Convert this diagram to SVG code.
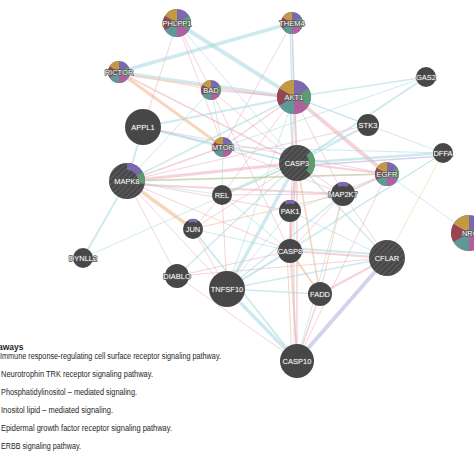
<svg xmlns="http://www.w3.org/2000/svg" width="474" height="474" viewBox="0 0 474 474">
<defs>
<pattern id="hatch" patternUnits="userSpaceOnUse" width="4" height="4" patternTransform="rotate(45)">
<rect width="4" height="4" fill="#474747"/>
<rect width="1.3" height="4" fill="#5c5c5c"/>
</pattern>
<clipPath id="cNRC"><circle cx="469" cy="233" r="18"/></clipPath>
</defs>
<style>
.e{fill:none;stroke-linecap:round}
.b{stroke:#9fd6e0;opacity:.5}
.p{stroke:#eaa8b3;opacity:.5}
.o{stroke:#f0b585;opacity:.55}
.g{stroke:#b5dca0;opacity:.55}
.l{stroke:#b7b4e0;opacity:.6}
.y{stroke:#e6dca0;opacity:.6}
.n{fill:#474747}
.h{fill:url(#hatch)}
.t{font-family:"Liberation Sans",Arial,sans-serif;font-size:7.5px;fill:#fff;text-anchor:middle;stroke:#555;stroke-width:1.4px;paint-order:stroke;stroke-linejoin:round}
.lg{font-family:"Liberation Sans Narrow","Liberation Sans",Arial,sans-serif;font-size:8.5px;fill:#262626}
.s1{fill:#7c68ae}.s2{fill:#5c9c72}.s3{fill:#b0609e}.s4{fill:#5e9a94}.s5{fill:#9a4452}.s6{fill:#c29a42}
</style>
<rect width="474" height="474" fill="#fff"/>
<g id="connectors">
<path class="e b" stroke-width="4" d="M177,23 L294,97"/>
<path class="e b" stroke-width="3.5" d="M119,72 L292,23"/>
<path class="e p" stroke-width="1.5" d="M292,23 L294,97"/>
<path class="e b" stroke-width="1.5" d="M290,23 L292,97"/>
<path class="e b" stroke-width="1" d="M292,23 L297,163"/>
<path class="e p" stroke-width="1" d="M292,23 L223,147"/>
<path class="e b" stroke-width="2.5" d="M119,72 L294,97"/>
<path class="e p" stroke-width="1.5" d="M119,74 L294,99"/>
<path class="e o" stroke-width="3" d="M119,72 L223,147"/>
<path class="e p" stroke-width="1.5" d="M119,72 L297,163"/>
<path class="e y" stroke-width="1" d="M119,72 L211,90"/>
<path class="e p" stroke-width="1" d="M177,23 L211,90"/>
<path class="e p" stroke-width="1" d="M177,23 L223,147"/>
<path class="e p" stroke-width="1" d="M177,23 L143,127"/>
<path class="e b" stroke-width="1" d="M177,23 L297,163"/>
<path class="e p" stroke-width="1.5" d="M211,90 L294,97"/>
<path class="e p" stroke-width="1" d="M211,90 L297,163"/>
<path class="e b" stroke-width="1" d="M211,90 L223,147"/>
<path class="e b" stroke-width="1" d="M211,90 L127,181"/>
<path class="e p" stroke-width="1" d="M211,90 L290,251"/>
<path class="e b" stroke-width="2" d="M143,127 L294,97"/>
<path class="e b" stroke-width="2" d="M143,127 L223,147"/>
<path class="e b" stroke-width="1.5" d="M143,127 L297,163"/>
<path class="e p" stroke-width="1" d="M143,127 L387,174"/>
<path class="e b" stroke-width="2" d="M143,127 L127,181"/>
<path class="e p" stroke-width="2" d="M294,97 L297,163"/>
<path class="e b" stroke-width="2" d="M290,97 L293,163"/>
<path class="e p" stroke-width="4" d="M294,97 L387,174"/>
<path class="e p" stroke-width="1.5" d="M294,97 L223,147"/>
<path class="e b" stroke-width="1.5" d="M294,97 L127,181"/>
<path class="e p" stroke-width="1" d="M294,97 L343,194"/>
<path class="e b" stroke-width="1" d="M294,97 L368,125"/>
<path class="e p" stroke-width="1" d="M294,97 L222,195"/>
<path class="e p" stroke-width="1" d="M294,97 L290,251"/>
<path class="e b" stroke-width="1" d="M294,97 L227,289"/>
<path class="e b" stroke-width="1" d="M294,97 L443,153"/>
<path class="e b" stroke-width="2" d="M426,77 L297,163"/>
<path class="e b" stroke-width="1.5" d="M426,77 L294,97"/>
<path class="e b" stroke-width="1" d="M426,77 L223,147"/>
<path class="e b" stroke-width="1.5" d="M368,125 L297,163"/>
<path class="e b" stroke-width="1" d="M368,125 L222,195"/>
<path class="e p" stroke-width="1" d="M368,125 L127,181"/>
<path class="e b" stroke-width="2.5" d="M443,153 L297,163"/>
<path class="e l" stroke-width="1.5" d="M443,156 L297,166"/>
<path class="e b" stroke-width="1" d="M443,153 L290,251"/>
<path class="e y" stroke-width="1" d="M443,153 L387,258"/>
<path class="e b" stroke-width="1" d="M443,153 L223,147"/>
<path class="e p" stroke-width="2" d="M387,174 L297,163"/>
<path class="e p" stroke-width="2" d="M387,174 L343,194"/>
<path class="e b" stroke-width="1" d="M387,174 L469,233"/>
<path class="e p" stroke-width="1.5" d="M387,174 L127,181"/>
<path class="e b" stroke-width="1" d="M387,174 L290,211"/>
<path class="e p" stroke-width="1" d="M387,174 L297,361"/>
<path class="e p" stroke-width="3" d="M127,181 L297,163"/>
<path class="e p" stroke-width="2" d="M127,184 L343,194"/>
<path class="e g" stroke-width="1.5" d="M127,181 L387,174"/>
<path class="e p" stroke-width="1.5" d="M127,181 L223,147"/>
<path class="e o" stroke-width="3.5" d="M127,181 L193,229"/>
<path class="e b" stroke-width="2" d="M127,181 L83,258"/>
<path class="e p" stroke-width="1" d="M127,181 L177,276"/>
<path class="e p" stroke-width="1" d="M127,181 L227,289"/>
<path class="e p" stroke-width="1" d="M127,181 L290,211"/>
<path class="e b" stroke-width="1" d="M127,181 L222,195"/>
<path class="e p" stroke-width="1" d="M127,181 L290,251"/>
<path class="e b" stroke-width="1" d="M223,147 L297,163"/>
<path class="e p" stroke-width="1" d="M223,147 L343,194"/>
<path class="e b" stroke-width="1" d="M223,147 L222,195"/>
<path class="e g" stroke-width="1.5" d="M222,195 L297,163"/>
<path class="e p" stroke-width="1" d="M222,195 L343,194"/>
<path class="e p" stroke-width="1" d="M222,195 L227,289"/>
<path class="e b" stroke-width="1" d="M222,195 L290,251"/>
<path class="e p" stroke-width="1" d="M222,195 L193,229"/>
<path class="e p" stroke-width="1" d="M193,229 L297,163"/>
<path class="e o" stroke-width="1" d="M193,229 L343,194"/>
<path class="e b" stroke-width="1" d="M193,229 L290,251"/>
<path class="e p" stroke-width="1" d="M193,229 L227,289"/>
<path class="e b" stroke-width="2" d="M193,229 L297,361"/>
<path class="e b" stroke-width="3.5" d="M297,163 L227,289"/>
<path class="e b" stroke-width="1.5" d="M297,163 L177,276"/>
<path class="e p" stroke-width="1.5" d="M297,163 L290,211"/>
<path class="e p" stroke-width="1.5" d="M297,163 L290,251"/>
<path class="e b" stroke-width="1.5" d="M297,163 L387,258"/>
<path class="e o" stroke-width="1.5" d="M297,163 L320,294"/>
<path class="e p" stroke-width="1.5" d="M297,163 L297,361"/>
<path class="e b" stroke-width="1" d="M294,163 L294,361"/>
<path class="e p" stroke-width="1" d="M297,163 L343,194"/>
<path class="e b" stroke-width="1" d="M297,163 L83,258"/>
<path class="e b" stroke-width="1.5" d="M343,194 L227,289"/>
<path class="e p" stroke-width="1" d="M343,194 L387,258"/>
<path class="e p" stroke-width="1" d="M343,194 L290,251"/>
<path class="e b" stroke-width="1" d="M343,194 L297,361"/>
<path class="e o" stroke-width="1" d="M343,194 L320,294"/>
<path class="e b" stroke-width="1" d="M290,211 L227,289"/>
<path class="e p" stroke-width="1.5" d="M290,211 L290,251"/>
<path class="e o" stroke-width="1" d="M290,211 L297,361"/>
<path class="e b" stroke-width="1" d="M290,211 L387,258"/>
<path class="e p" stroke-width="2" d="M290,251 L387,258"/>
<path class="e b" stroke-width="2" d="M290,248 L387,255"/>
<path class="e o" stroke-width="2" d="M290,251 L320,294"/>
<path class="e p" stroke-width="1.5" d="M290,251 L297,361"/>
<path class="e o" stroke-width="1" d="M287,251 L292,361"/>
<path class="e b" stroke-width="1.5" d="M290,251 L227,289"/>
<path class="e p" stroke-width="1" d="M290,251 L177,276"/>
<path class="e p" stroke-width="2" d="M387,258 L320,294"/>
<path class="e l" stroke-width="4" d="M387,258 L297,361"/>
<path class="e b" stroke-width="1.5" d="M387,258 L227,289"/>
<path class="e p" stroke-width="1" d="M387,258 L177,276"/>
<path class="e p" stroke-width="1.5" d="M320,294 L297,361"/>
<path class="e b" stroke-width="1.5" d="M320,294 L227,289"/>
<path class="e b" stroke-width="3.5" d="M227,289 L297,361"/>
<path class="e p" stroke-width="1" d="M177,276 L297,361"/>
<path class="e b" stroke-width="1" d="M227,289 L443,153"/>
</g>
<g id="node-PHLPP1"><circle cx="177" cy="23" r="14" class="s1"/><path class="s6" d="M177,23 L177,9 A14,14 0 0,0 164.9,16 Z"/><path class="s5" d="M177,23 L164.9,16 A14,14 0 0,0 164.9,30 Z"/><path class="s4" d="M177,23 L164.9,30 A14,14 0 0,0 177,37 Z"/><path class="s3" d="M177,23 L177,37 A14,14 0 0,0 189.1,30 Z"/><path class="s2" d="M177,23 L189.1,30 A14,14 0 0,0 189.1,16 Z"/><text class="t" x="177" y="25.7">PHLPP1</text></g>
<g id="node-THEM4"><circle cx="292" cy="23" r="11" class="s1"/><path class="s6" d="M292,23 L292,12 A11,11 0 0,0 282.5,17.5 Z"/><path class="s5" d="M292,23 L282.5,17.5 A11,11 0 0,0 282.5,28.5 Z"/><path class="s4" d="M292,23 L282.5,28.5 A11,11 0 0,0 292,34 Z"/><path class="s3" d="M292,23 L292,34 A11,11 0 0,0 301.5,28.5 Z"/><path class="s2" d="M292,23 L301.5,28.5 A11,11 0 0,0 301.5,17.5 Z"/><text class="t" x="292" y="25.7">THEM4</text></g>
<g id="node-RICTOR"><circle cx="119" cy="72" r="11" class="s1"/><path class="s6" d="M119,72 L119,61 A11,11 0 0,0 109.5,66.5 Z"/><path class="s5" d="M119,72 L109.5,66.5 A11,11 0 0,0 109.5,77.5 Z"/><path class="s4" d="M119,72 L109.5,77.5 A11,11 0 0,0 119,83 Z"/><path class="s3" d="M119,72 L119,83 A11,11 0 0,0 128.5,77.5 Z"/><path class="s2" d="M119,72 L128.5,77.5 A11,11 0 0,0 128.5,66.5 Z"/><text class="t" x="119" y="74.7">RICTOR</text></g>
<g id="node-BAD"><circle cx="211" cy="90" r="10" class="s1"/><path class="s6" d="M211,90 L211,80 A10,10 0 0,0 202.3,85 Z"/><path class="s5" d="M211,90 L202.3,85 A10,10 0 0,0 202.3,95 Z"/><path class="s4" d="M211,90 L202.3,95 A10,10 0 0,0 211,100 Z"/><path class="s3" d="M211,90 L211,100 A10,10 0 0,0 219.7,95 Z"/><path class="s2" d="M211,90 L219.7,95 A10,10 0 0,0 219.7,85 Z"/><text class="t" x="211" y="92.7">BAD</text></g>
<g id="node-AKT1"><circle cx="294" cy="97" r="17" class="s1"/><path class="s6" d="M294,97 L294,80 A17,17 0 0,0 279.3,88.5 Z"/><path class="s5" d="M294,97 L279.3,88.5 A17,17 0 0,0 279.3,105.5 Z"/><path class="s4" d="M294,97 L279.3,105.5 A17,17 0 0,0 294,114 Z"/><path class="s3" d="M294,97 L294,114 A17,17 0 0,0 308.7,105.5 Z"/><path class="s2" d="M294,97 L308.7,105.5 A17,17 0 0,0 308.7,88.5 Z"/><text class="t" x="294" y="99.7">AKT1</text></g>
<g id="node-GAS2"><circle cx="426" cy="77" r="10" class="n"/><text class="t" x="426" y="79.7">GAS2</text></g>
<g id="node-APPL1"><circle cx="143" cy="127" r="18" class="n"/><text class="t" x="143" y="129.7">APPL1</text></g>
<g id="node-STK3"><circle cx="368" cy="125" r="11" class="n"/><text class="t" x="368" y="127.7">STK3</text></g>
<g id="node-MTOR"><circle cx="223" cy="147" r="10" class="s1"/><path class="s6" d="M223,147 L223,137 A10,10 0 0,0 214.3,142 Z"/><path class="s5" d="M223,147 L214.3,142 A10,10 0 0,0 214.3,152 Z"/><path class="s4" d="M223,147 L214.3,152 A10,10 0 0,0 223,157 Z"/><path class="s3" d="M223,147 L223,157 A10,10 0 0,0 231.7,152 Z"/><path class="s2" d="M223,147 L231.7,152 A10,10 0 0,0 231.7,142 Z"/><text class="t" x="223" y="149.7">MTOR</text></g>
<g id="node-CASP3"><circle cx="297" cy="163" r="18" class="h"/><path class="s2" d="M297,163 L310.8,151.4 A18,18 0 0,1 310.8,174.6 Z"/><circle cx="297" cy="163" r="12" class="h"/><text class="t" x="297" y="165.7">CASP3</text></g>
<g id="node-DFFA"><circle cx="443" cy="153" r="10" class="n"/><text class="t" x="443" y="155.7">DFFA</text></g>
<g id="node-EGFR"><circle cx="387" cy="174" r="12" class="s1"/><path class="s6" d="M387,174 L387,162 A12,12 0 0,0 376.6,168 Z"/><path class="s5" d="M387,174 L376.6,168 A12,12 0 0,0 376.6,180 Z"/><path class="s4" d="M387,174 L376.6,180 A12,12 0 0,0 387,186 Z"/><path class="s3" d="M387,174 L387,186 A12,12 0 0,0 397.4,180 Z"/><path class="s2" d="M387,174 L397.4,180 A12,12 0 0,0 397.4,168 Z"/><text class="t" x="387" y="176.7">EGFR</text></g>
<g id="node-MAPK8"><circle cx="127" cy="181" r="18" class="h"/><path class="s1" d="M127,181 L127,163 A18,18 0 0,1 142.6,172 Z"/><path class="s2" d="M127,181 L142.6,172 A18,18 0 0,1 144.7,184.1 Z"/><circle cx="127" cy="181" r="11" class="h"/><text class="t" x="127" y="183.7">MAPK8</text></g>
<g id="node-REL"><circle cx="222" cy="195" r="10" class="n"/><text class="t" x="222" y="197.7">REL</text></g>
<g id="node-MAP2K7"><circle cx="343" cy="194" r="12" class="n"/><path class="s1" d="M343,194 L337,183.6 A12,12 0 0,1 349,183.6 Z"/><circle cx="343" cy="194" r="8" class="n"/><text class="t" x="343" y="196.7">MAP2K7</text></g>
<g id="node-PAK1"><circle cx="290" cy="211" r="11" class="n"/><path class="s1" d="M290,211 L284.5,201.5 A11,11 0 0,1 295.5,201.5 Z"/><circle cx="290" cy="211" r="7.5" class="n"/><text class="t" x="290" y="213.7">PAK1</text></g>
<g id="node-JUN"><circle cx="193" cy="229" r="10" class="n"/><path class="s1" d="M193,229 L188,220.3 A10,10 0 0,1 198,220.3 Z"/><circle cx="193" cy="229" r="7" class="n"/><text class="t" x="193" y="231.7">JUN</text></g>
<g id="node-CASP8"><circle cx="290" cy="251" r="12" class="n"/><text class="t" x="290" y="253.7">CASP8</text></g>
<g id="node-CFLAR"><circle cx="387" cy="258" r="18" class="h"/><text class="t" x="387" y="260.7">CFLAR</text></g>
<g id="node-DYNLL2"><circle cx="83" cy="258" r="10" class="n"/><text class="t" x="83" y="260.7">DYNLL2</text></g>
<g id="node-DIABLO"><circle cx="177" cy="276" r="12" class="n"/><text class="t" x="177" y="278.7">DIABLO</text></g>
<g id="node-TNFSF10"><circle cx="227" cy="289" r="18" class="n"/><text class="t" x="227" y="291.7">TNFSF10</text></g>
<g id="node-FADD"><circle cx="320" cy="294" r="12" class="n"/><text class="t" x="320" y="296.7">FADD</text></g>
<g id="node-CASP10"><circle cx="297" cy="361" r="17" class="n"/><text class="t" x="297" y="363.7">CASP10</text></g>
<g id="node-NRC"><circle cx="469" cy="233" r="18" class="s1"/><g clip-path="url(#cNRC)"><path class="s6" d="M469,233 L469,215 A18,18 0 0,0 453.4,224 Z"/><path class="s5" d="M469,233 L453.4,224 A18,18 0 0,0 453.4,242 Z"/><path class="s4" d="M469,233 L453.4,242 A18,18 0 0,0 469,251 Z"/><path class="s3" d="M469,233 L469,251 A18,18 0 0,0 484.6,242 Z"/></g><text class="t" x="470" y="235.7">NRC</text></g>
<g id="legend">
<text class="lg" x="-2" y="349.5" font-weight="bold">aways</text>
<text class="lg" x="0" y="359" textLength="221" lengthAdjust="spacingAndGlyphs">Immune response-regulating cell surface receptor signaling pathway.</text>
<text class="lg" x="1" y="376.5" textLength="152" lengthAdjust="spacingAndGlyphs">Neurotrophin TRK receptor signaling pathway.</text>
<text class="lg" x="1" y="394.5" textLength="136" lengthAdjust="spacingAndGlyphs">Phosphatidylinositol – mediated signaling.</text>
<text class="lg" x="1" y="413" textLength="112" lengthAdjust="spacingAndGlyphs">Inositol lipid – mediated signaling.</text>
<text class="lg" x="1" y="431" textLength="171" lengthAdjust="spacingAndGlyphs">Epidermal growth factor receptor signaling pathway.</text>
<text class="lg" x="1" y="449" textLength="80" lengthAdjust="spacingAndGlyphs">ERBB signaling pathway.</text>
</g>
</svg>
